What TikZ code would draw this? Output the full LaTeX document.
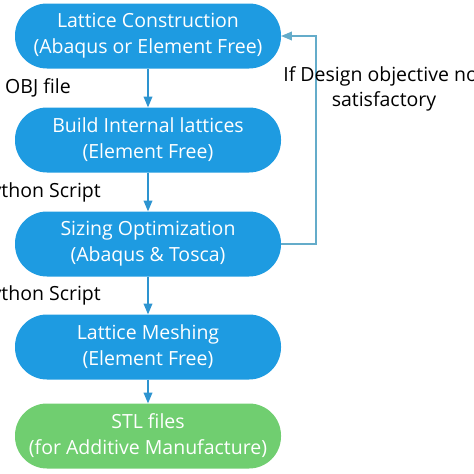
\documentclass[tikz,border=0pt]{standalone}
\usepackage{fontspec}
\setmainfont{Open Sans}
\usetikzlibrary{shapes,positioning,arrows}

\definecolor{stageblue}{RGB}{30,155,225}
\definecolor{stagegreen}{RGB}{112,206,112}
\definecolor{linkblue}{RGB}{45,148,208}
\definecolor{loopblue}{RGB}{100,172,202}

\begin{document}
\begin{tikzpicture}[x=1pt, y=-1pt,
  stage/.style={rectangle, rounded corners=32pt, align=center, fill=stageblue, text=white, minimum height=65pt, minimum width=266pt, inner sep=0pt, font=\fontsize{19.5}{26}\selectfont},
  output/.style={stage, fill=stagegreen},
  note/.style={align=center, inner sep=0pt, font=\fontsize{19.5}{25}\selectfont},
  arrow/.style={->, line width=1.5pt, draw=linkblue, >=triangle 45}
]
\useasboundingbox (0,0) rectangle (474,474);
\clip (0,0) rectangle (474,474);

% Pipeline Stages
\node[stage] (construct) at (148, 36) {Lattice Construction\\(Abaqus or Element Free)};
\node[stage] (internal) at (148, 140) {Build Internal lattices\\(Element Free)};
\node[stage] (sizing) at (148, 244) {Sizing Optimization\\(Abaqus \& Tosca)};
\node[stage] (meshing) at (148, 347) {Lattice Meshing\\(Element Free)};
\node[output] (stl) at (148, 436) {STL files\\(for Additive Manufacture)};

% Transfer Labels
\node[note, anchor=west] (objfile) at (5, 88) {OBJ file};
\node[note, anchor=east] (script1) at (101, 192) {Python Script};
\node[note, anchor=east] (script2) at (101, 295) {Python Script};

% Main Edges
\draw[arrow] (construct) -- (internal);
\draw[arrow] (internal) -- (sizing);
\draw[arrow] (sizing) -- (meshing);
\draw[arrow] (meshing) -- (stl);

% Feedback Loop
\draw[->, line width=1.5pt, draw=loopblue, >=triangle 45] (sizing.east) -- ++(35,0) |- (construct.east);
\node[note] (retry) at (384, 89) {If Design objective not\\satisfactory};
\end{tikzpicture}
\end{document}
